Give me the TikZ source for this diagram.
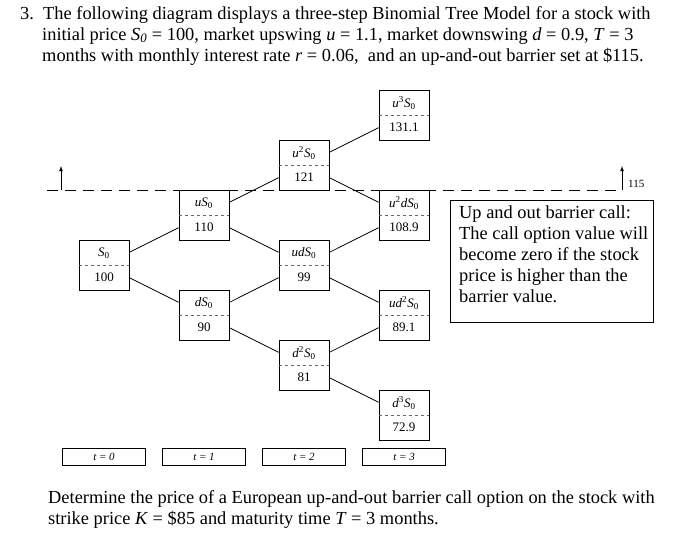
\documentclass[tikz,border=0pt]{standalone}
\usepackage{fontspec}
\setmainfont{Liberation Serif}
\usetikzlibrary{calc}
\begin{document}
\begin{tikzpicture}[x=1pt,y=-1pt,
  sbox/.style={draw,fill=white,minimum width=50pt,minimum height=50pt,inner sep=0pt,line width=0.8pt},
  tbox/.style={draw,minimum width=83pt,minimum height=17pt,inner sep=0pt,font=\fontsize{11}{12}\selectfont\itshape,line width=0.8pt},
  edge/.style={line width=0.7pt},
  lab/.style={font=\fontsize{13}{14}\selectfont,inner sep=0pt},
  body/.style={font=\fontsize{18.4}{21}\selectfont,anchor=north west,align=left,inner sep=0pt}]
\useasboundingbox (0,0) rectangle (700,550);
% header
\node[body] (hd) at (20,6) {3.\ \ The following diagram displays a three-step Binomial Tree Model for a stock with\\
\hspace*{22pt}initial price \textit{S\textsubscript{0}} = 100, market upswing \textit{u} = 1.1, market downswing \textit{d} = 0.9, \textit{T} = 3\\
\hspace*{22pt}months with monthly interest rate \textit{r} = 0.06,\ \ and an up-and-out barrier set at \$115.};
% barrier
\coordinate (bl) at (47,190); \coordinate (br) at (618,190);
\draw[line width=0.8pt,dash pattern=on 11pt off 7pt] (bl) -- (br);
\coordinate (a1) at (61,190); \coordinate (a1t) at (61,166);
\coordinate (a2) at (622,190); \coordinate (a2t) at (622,166);
\draw[-latex,line width=0.8pt] (a1) -- (a1t);
\draw[-latex,line width=0.8pt] (a2) -- (a2t);
\node[font=\fontsize{11}{12}\selectfont,anchor=west,inner sep=0pt] (lbl) at (628,184) {115};
% nodes
\newcommand{\stocknode}[4]{\node[sbox] (#1) at (#2) {};
  \draw[dashed,gray!80!black,line width=0.8pt] (#1.west) -- (#1.east);
  \node[lab] (#1t) at ($(#1.center)+(0,-12)$) {#3};
  \node[lab] (#1b) at ($(#1.center)+(0,12)$) {#4};}
\stocknode{S}{104,265}{\textit{S}\textsubscript{0}}{100}
\stocknode{u}{204,215}{\textit{uS}\textsubscript{0}}{110}
\stocknode{d}{204,315}{\textit{dS}\textsubscript{0}}{90}
\stocknode{uu}{304,165}{\textit{u}\textsuperscript{2}\textit{S}\textsubscript{0}}{121}
\stocknode{ud}{304,265}{\textit{udS}\textsubscript{0}}{99}
\stocknode{dd}{304,365}{\textit{d}\textsuperscript{2}\textit{S}\textsubscript{0}}{81}
\stocknode{uuu}{404,115}{\textit{u}\textsuperscript{3}\textit{S}\textsubscript{0}}{131.1}
\stocknode{uud}{404,215}{\textit{u}\textsuperscript{2}\textit{dS}\textsubscript{0}}{108.9}
\stocknode{udd}{404,315}{\textit{ud}\textsuperscript{2}\textit{S}\textsubscript{0}}{89.1}
\stocknode{ddd}{404,415}{\textit{d}\textsuperscript{3}\textit{S}\textsubscript{0}}{72.9}
\draw[edge] (S) -- (u); \draw[edge] (S) -- (d);
\draw[edge] (u) -- (uu); \draw[edge] (u) -- (ud);
\draw[edge] (d) -- (ud); \draw[edge] (d) -- (dd);
\draw[edge] (uu) -- (uuu); \draw[edge] (uu) -- (uud);
\draw[edge] (ud) -- (uud); \draw[edge] (ud) -- (udd);
\draw[edge] (dd) -- (udd); \draw[edge] (dd) -- (ddd);
% time boxes
\node[tbox] (t0) at (104,457) {t = 0};
\node[tbox] (t1) at (204,457) {t = 1};
\node[tbox] (t2) at (304,457) {t = 2};
\node[tbox] (t3) at (404,457) {t = 3};
% barrier text box
\node[draw,line width=0.8pt,minimum width=203pt,minimum height=122pt,anchor=north west,inner sep=0pt] (tb) at (450,200) {};
\node[font=\fontsize{18.4}{21}\selectfont,anchor=north west,align=left,inner sep=0pt] (tbt) at (459,206) {Up and out barrier call:\\The call option value will\\become zero if the stock\\price is higher than the\\barrier value.};
% footer
\node[body] (ft) at (48,490) {Determine the price of a European up-and-out barrier call option on the stock with\\strike price \textit{K} = \$85 and maturity time \textit{T} = 3 months.};
\end{tikzpicture}
\end{document}
